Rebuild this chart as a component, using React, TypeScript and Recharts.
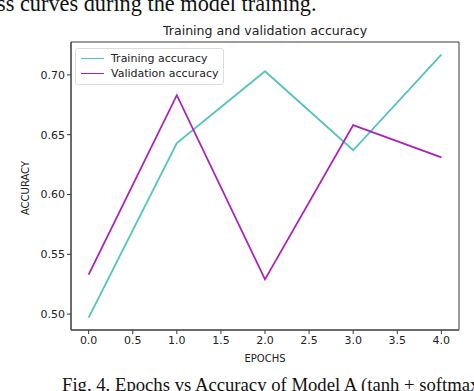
import React from "react";
import { Line, LineChart, ReferenceArea, XAxis, YAxis } from "recharts";

const epochs = [0, 1, 2, 3, 4];
const trainingAccuracy = [0.497, 0.643, 0.703, 0.637, 0.717];
const validationAccuracy = [0.533, 0.683, 0.529, 0.658, 0.631];
const xTicks = [0, 0.5, 1, 1.5, 2, 2.5, 3, 3.5, 4];
const yTicks = [0.5, 0.55, 0.6, 0.65, 0.7];

const TRAIN_COLOR = "#52c4b9";
const VAL_COLOR = "#aa22bb";
const AXIS_COLOR = "#3a3a3a";
const FONT = "'DejaVu Sans', sans-serif";
const X_DOMAIN: [number, number] = [-0.2, 4.2];
const Y_DOMAIN: [number, number] = [0.4867, 0.7275];

const data = epochs.map((e, i) => ({
  epoch: e,
  train: trainingAccuracy[i],
  val: validationAccuracy[i],
}));

function LegendBox() {
  const rows = [
    { label: "Training accuracy", color: TRAIN_COLOR },
    { label: "Validation accuracy", color: VAL_COLOR },
  ];
  return (
    <div
      style={{
        position: "absolute",
        left: 75,
        top: 48,
        border: "1px solid #ddd",
        borderRadius: 3,
        background: "rgba(255,255,255,0.9)",
        padding: "2px 5px 3px 5px",
        fontFamily: FONT,
        fontSize: 11,
        color: "#222",
      }}
    >
      {rows.map((r) => (
        <div key={r.label} style={{ display: "flex", alignItems: "center", height: 15 }}>
          <span
            style={{
              display: "inline-block",
              width: 23,
              height: 0,
              borderTop: `1.8px solid ${r.color}`,
              marginRight: 7,
            }}
          />
          {r.label}
        </div>
      ))}
    </div>
  );
}

export default function App() {
  return (
    <div
      style={{
        position: "absolute",
        left: 0,
        top: 0,
        width: 474,
        height: 391,
        overflow: "hidden",
        background: "#fff",
      }}
    >
      <LineChart
        width={474}
        height={391}
        data={data}
        margin={{ top: 42, right: 15, left: 11, bottom: 31 }}
      >
        <XAxis
          dataKey="epoch"
          type="number"
          domain={X_DOMAIN}
          ticks={xTicks}
          tickFormatter={(v: number) => v.toFixed(1)}
          stroke={AXIS_COLOR}
          tickSize={4}
          height={30}
          tick={{ fill: "#222", fontSize: 11, fontFamily: FONT }}
          allowDataOverflow
        />
        <YAxis
          type="number"
          domain={Y_DOMAIN}
          ticks={yTicks}
          tickFormatter={(v: number) => v.toFixed(2)}
          stroke={AXIS_COLOR}
          tickSize={4}
          width={60}
          tick={{ fill: "#222", fontSize: 11, fontFamily: FONT }}
          allowDataOverflow
        />
        <ReferenceArea
          x1={X_DOMAIN[0]}
          x2={X_DOMAIN[1]}
          y1={Y_DOMAIN[0]}
          y2={Y_DOMAIN[1]}
          fill="none"
          stroke={AXIS_COLOR}
          strokeWidth={1}
          ifOverflow="visible"
        />
        <Line
          dataKey="train"
          name="Training accuracy"
          stroke={TRAIN_COLOR}
          strokeWidth={1.8}
          dot={false}
          isAnimationActive={false}
        />
        <Line
          dataKey="val"
          name="Validation accuracy"
          stroke={VAL_COLOR}
          strokeWidth={1.8}
          dot={false}
          isAnimationActive={false}
        />
      </LineChart>
      <LegendBox />
      <svg
        width={474}
        height={391}
        style={{ position: "absolute", left: 0, top: 0, pointerEvents: "none" }}
      >
        <text x={-3} y={11} fontFamily="'Liberation Serif', serif" fontSize={22.3} fill="#111">
          ss curves during the model training.
        </text>
        <text x={265} y={35} textAnchor="middle" fontFamily={FONT} fontSize={12.6} fill="#222">
          Training and validation accuracy
        </text>
        <text x={265} y={362} textAnchor="middle" fontFamily={FONT} fontSize={10} fill="#222">
          EPOCHS
        </text>
        <text
          x={29}
          y={188}
          textAnchor="middle"
          fontFamily={FONT}
          fontSize={10}
          fill="#222"
          transform="rotate(-90 29 188)"
        >
          ACCURACY
        </text>
        <text x={62} y={391} fontFamily="'Liberation Serif', serif" fontSize={18.7} fill="#111">
          Fig. 4. Epochs vs Accuracy of Model A (tanh + softmax)
        </text>
      </svg>
    </div>
  );
}
